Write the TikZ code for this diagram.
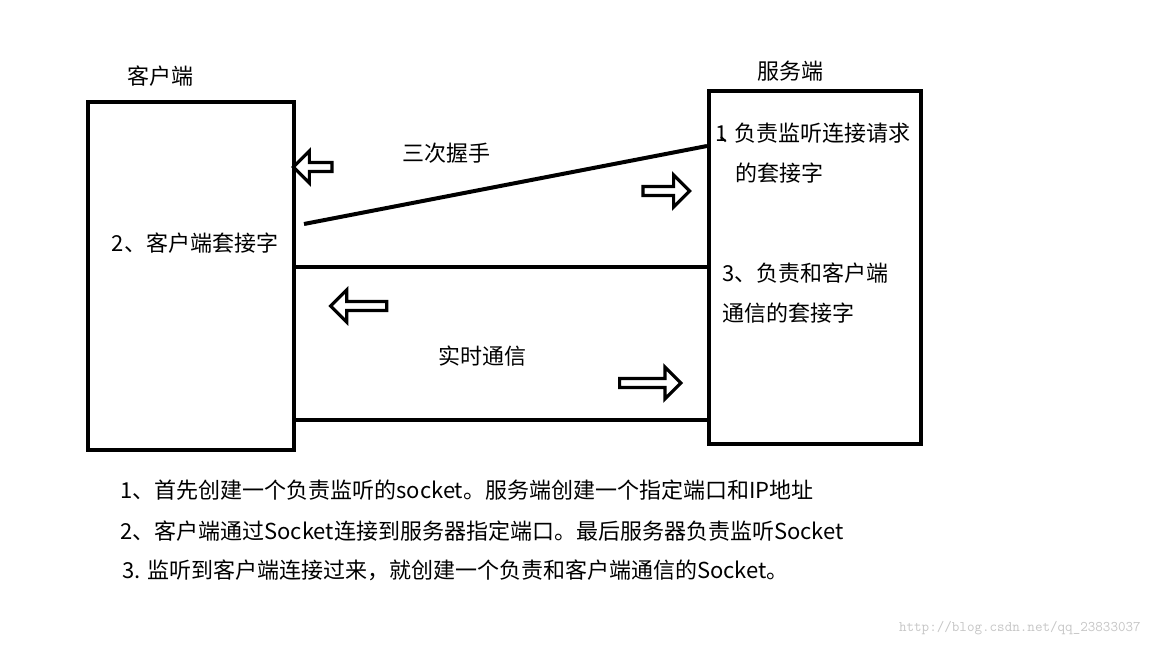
\documentclass[tikz,border=0pt]{standalone}
\usepackage{fontspec}
\setmainfont{Noto Sans CJK SC}
\usetikzlibrary{shapes.arrows}
\begin{document}
\begin{tikzpicture}[x=0.75pt,y=-0.75pt,
  box/.style={draw,line width=3pt},
  conn/.style={line width=3pt},
  harrow/.style={single arrow,draw,line width=2.4pt,minimum height=38pt,minimum width=24pt,single arrow head extend=3pt,inner sep=0pt},
  lbl/.style={font=\fontsize{16.5}{18}\selectfont,inner sep=0pt},
  note/.style={font=\fontsize{16.5}{18}\selectfont,inner sep=0pt,anchor=west}]
\useasboundingbox[fill=white] (0,0) rectangle (1152,648);
\draw[box] (88,102) rectangle (294,450);
\draw[box] (709,91) rectangle (921,444);
\coordinate (h1) at (304,224); \coordinate (h2) at (707,146);
\coordinate (a1) at (294,267); \coordinate (a2) at (709,267);
\coordinate (b1) at (294,420); \coordinate (b2) at (709,420);
\draw[conn] (h1) -- (h2);
\draw[conn] (a1) -- (a2);
\draw[conn] (b1) -- (b2);
\node[harrow,shape border rotate=180,minimum height=29pt] (ar1) at (315,167) {};
\node[harrow,minimum height=35pt] (ar2) at (664,191) {};
\node[harrow,shape border rotate=180,minimum height=42pt] (ar3) at (361,306) {};
\node[harrow,minimum height=46pt] (ar4) at (648,383) {};
\node[lbl] (t1) at (160,76) {客户端};
\node[lbl] (t2) at (790,71) {服务端};
\node[lbl] (t3) at (446,153) {三次握手};
\node[lbl] (t4) at (195,243) {2、客户端套接字};
\node[lbl,anchor=west] (t5) at (715,133) {1\kern-6pt、\kern-5pt 负责监听连接请求};
\node[lbl,anchor=west] (t6) at (735,173) {的套接字};
\node[lbl,anchor=west] (t7) at (722,273) {3、负责和客户端};
\node[lbl,anchor=west] (t8) at (722,313) {通信的套接字};
\node[lbl] (t9) at (482,356) {实时通信};
\node[note] (n1) at (120,490) {1、首先创建一个负责监听的socket。服务端创建一个指定端口和IP地址};
\node[note] (n2) at (120,531) {2、客户端通过Socket连接到服务器指定端口。最后服务器负责监听Socket};
\node[note] (n3) at (122,570) {3. 监听到客户端连接过来，就创建一个负责和客户端通信的Socket。};
\node[font=\fontsize{11}{12}\ttfamily,text=gray!45,anchor=east,inner sep=0pt] (wm) at (1141,628) {http://blog.csdn.net/qq\_23833037};
\end{tikzpicture}
\end{document}
